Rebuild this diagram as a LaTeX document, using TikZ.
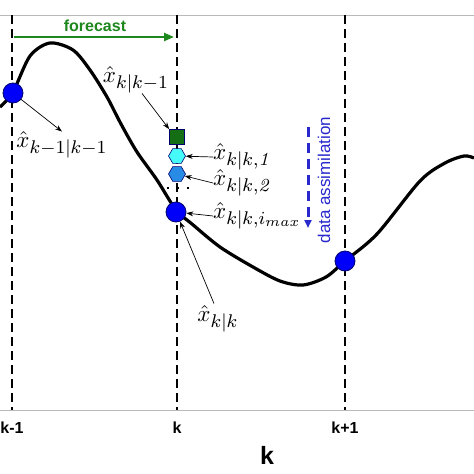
\documentclass[tikz,border=0pt]{standalone}
\usepackage{amsmath}
\usepackage{amssymb}
\usepackage{fontspec}
\newfontfamily\arialfont{Liberation Sans}
\usepackage{tikz}
\usetikzlibrary{shapes.geometric,arrows.meta}
\DeclareMathSizes{10}{10}{8}{6}
\definecolor{FcGreen}{RGB}{30,135,30}
\definecolor{DaBlue}{RGB}{40,40,205}
\definecolor{DotBlue}{RGB}{0,0,250}
\definecolor{DotEdge}{RGB}{0,0,110}
\definecolor{SqGreen}{RGB}{20,110,20}
\definecolor{HexCyan}{RGB}{70,250,250}
\definecolor{HexBlue}{RGB}{40,140,230}
\definecolor{FrameGray}{RGB}{185,185,185}
\newcommand{\est}[1]{\scalebox{2.3}{$\hat{x}_{#1}$}}

\begin{document}
\begin{tikzpicture}[x=1pt,y=-1pt,
    titik/.style={circle,draw=DotEdge,fill=DotBlue,line width=0.8pt,minimum size=20pt,inner sep=0pt},
    heksa/.style={regular polygon,regular polygon sides=6,draw=DotEdge,line width=0.6pt,minimum size=17pt,inner sep=0pt},
    tulisan/.style={font=\fontsize{10}{12}\selectfont,inner sep=0pt},
    sumbu/.style={font=\arialfont\bfseries\fontsize{16}{19}\selectfont},
    panah/.style={-{Stealth[length=7pt,width=5pt]},line width=0.7pt},
    garis/.style={dash pattern=on 9pt off 5pt,line width=1.1pt}]

    \useasboundingbox (0,0) rectangle (474,474);

    % Gambar garis batas atas dan bawah
    \draw[FrameGray,line width=0.9pt] (0,15)--(474,15);
    \draw[FrameGray,line width=0.9pt] (0,410)--(474,410);

    % Gambar label waktu k-1, k, k+1 dan garis putus-putus
    \node[sumbu] (t0) at (12,428) {k-1};
    \node[sumbu] (t1) at (177,428) {k};
    \node[sumbu] (t2) at (345,428) {k+1};
    \node[font=\arialfont\bfseries\fontsize{25}{30}\selectfont] (tk) at (267,455) {k};
    \draw[garis] (12,15)--(12,410);
    \draw[garis] (177,15)--(177,410);
    \draw[garis] (345,15)--(345,410);

    % Gambar panah forecast
    \node[font=\arialfont\bfseries\fontsize{16}{19}\selectfont,text=FcGreen] (fc) at (95,26) {forecast};
    \coordinate (fcA) at (14,37);
    \coordinate (fcB) at (174,37);
    \draw[FcGreen,line width=2.3pt,-{Triangle[length=10pt,width=8pt]}] (fcA)--(fcB);

    % Gambar kurva lintasan
    \draw[line width=3.2pt,line join=round] plot[smooth] coordinates {(0,107) (13,92) (30,56) (50,43) (73,50) (90,70) (107,97) (121,124) (137,152) (157,180) (176,210) (192,224) (220,247) (253,267) (280,281) (303,285) (326,277) (345,261) (377,234) (420,181) (445,163) (464,156) (474,158)};

    % Gambar titik estimasi
    \node[titik] (xa) at (13,93) {};
    \node[titik] (xc) at (176,212) {};
    \node[titik] (xd) at (345,261) {};
    \node[draw=DotEdge,fill=SqGreen,line width=0.6pt,minimum size=15pt,inner sep=0pt] (xp) at (177,137) {};
    \node[heksa,fill=HexCyan] (h1) at (177,156) {};
    \node[heksa,fill=HexBlue] (h2) at (177,174) {};
    \draw[line width=1.8pt,dash pattern=on 1.8pt off 8.2pt] (167,188)--(192,188);

    % Gambar label estimasi
    \node[tulisan] (lp) at (136,80) {\est{k|k-1}};
    \node[tulisan] (la) at (62,145) {\est{k-1|k-1}};
    \node[tulisan,anchor=west] (l1) at (213,157) {\est{k|k,\mathit{1}}};
    \node[tulisan,anchor=west] (l2) at (213,183) {\est{k|k,\mathit{2}}};
    \node[tulisan,anchor=west] (lm) at (213,216) {\est{k|k,i_{max}}};
    \node[tulisan] (lk) at (218,319) {\est{k|k}};

    % Gambar panah dari label ke titik
    \draw[panah] ([xshift=6pt]lp.south)--(xp.north west);
    \draw[panah] (xa)--(la.north);
    \draw[panah] (l1.west)--(h1);
    \draw[panah] (l2.west)--(h2);
    \draw[panah] (lm.west)--(xc);
    \draw[panah] ([xshift=-4pt,yshift=2pt]lk.north)--(xc);

    % Gambar panah data assimilation
    \node[rotate=90,font=\arialfont\fontsize{17}{20}\selectfont,text=DaBlue] (da) at (324,180) {data assimilation};
    \coordinate (daA) at (308,127);
    \coordinate (daB) at (308,228);
    \draw[DaBlue,line width=3pt,dash pattern=on 10pt off 6pt,-{Triangle[length=8pt,width=7pt]}] (daA)--(daB);

\end{tikzpicture}
\end{document}
